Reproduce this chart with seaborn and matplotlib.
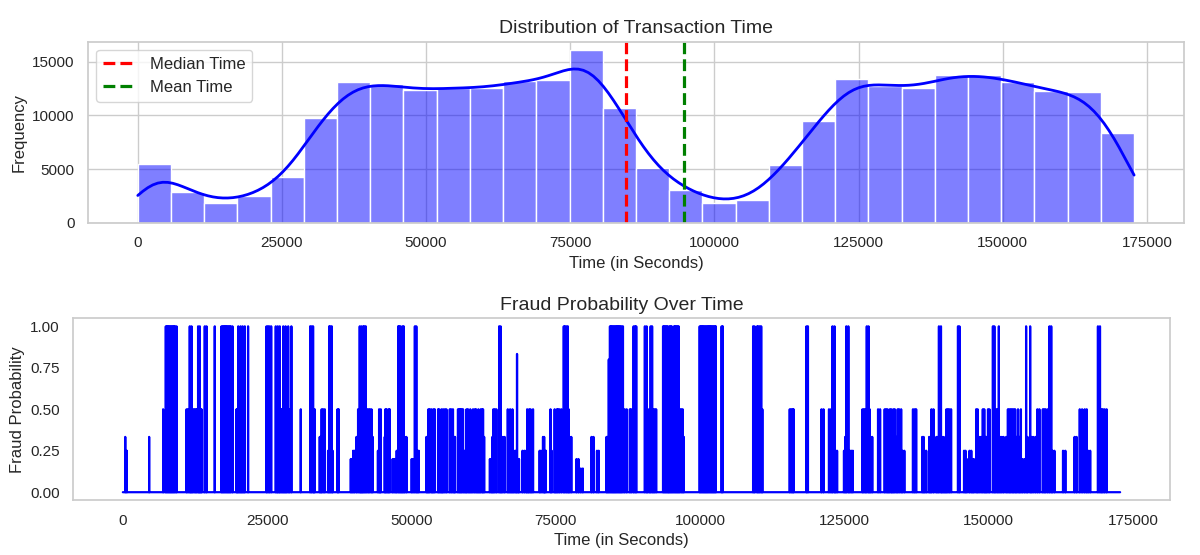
import numpy as np
import pandas as pd
import matplotlib
matplotlib.use("Agg")
import matplotlib.pyplot as plt
import seaborn as sns

# ---------------- data ----------------
# Histogram of transaction time (30 equal bins from min to max time)
bin_counts = [5500, 2900, 1900, 2500, 4300, 9800, 13100, 12900, 12330, 12580,
              12550, 13170, 13330, 16060, 10690, 5100, 3075, 1835, 2140, 5400,
              9500, 13420, 12770, 12550, 13790, 13740, 13110, 12240, 12140, 8360]
time_min, time_max = 0, 172792
time_median = 84692.0
time_mean = 94813.86

# Fraud probability spikes (time in seconds), grouped by probability level
times_p100 = [7450, 7650, 7850, 8050, 8250, 8450, 8650, 8850, 9050, 9300,
              11600, 11900, 13040, 13340, 14200, 14500, 15930,
              17100, 17300, 17500, 17700, 17900, 18100, 18300, 18500, 18700, 18990,
              20000, 20400, 20750, 21130, 21700,
              24900, 25150, 25400, 25700,
              26500, 26850, 27190, 27800, 28200, 28650, 29200,
              32450, 32700, 32960,
              35750, 35950, 36200,
              41050, 41340, 41650, 41850, 42090,
              47700, 47900, 48100, 48450, 48670,
              50600, 50850,
              65200, 65450,
              76400, 76600, 76850, 77100,
              84400, 84600, 84800, 85000, 85200, 85400, 85600, 85800, 86000, 86200, 86400, 86650,
              88500, 88750, 88950,
              90450, 90750, 91450, 91700,
              93600, 93800, 94000, 94200, 94400, 94700, 94900, 95100, 95500, 95700, 95900, 96100, 96300,
              99950, 100150, 100350, 100550, 100750, 100950, 101150, 101350, 101550, 101750,
              101950, 102150, 102350, 102550, 102750,
              103750, 103950,
              109200, 109450, 109900, 110100, 110350, 110600,
              118450, 118700,
              122950, 123300,
              125350, 125700,
              128900, 129200,
              141400, 141750,
              144700, 144950,
              150750, 151000, 151780,
              156500, 157200,
              160550, 160850,
              168950, 169300]
times_p83 = [68300]
times_p80 = [84200]
times_p50 = [6980,
             11050, 11300, 11750, 12100, 12350, 12600, 12800, 13200, 13500, 13630,
             19700, 19850, 20200, 20560, 20950,
             26700, 27050, 27400, 27600, 28000, 28400, 28900,
             30830, 33100, 33250, 34450, 34700, 34990, 37200, 37400,
             40760, 41200, 41500, 42300, 42550, 42800, 43080,
             44400, 44690, 45500, 45700, 46050, 46240,
             52950, 53170, 53460, 53800, 54040,
             54620, 54800, 55200, 55500, 55800, 56060,
             56650, 56900, 57200,
             58070, 58300, 58500, 58700, 58940,
             59550, 59800, 60200, 60670,
             60970, 61200, 61600, 62000, 62250, 62410,
             64200, 64450, 64720, 66700, 67100, 67500,
             70050, 70400, 70650, 71070, 74100,
             74820, 75200, 75400, 75650, 75980, 77250,
             86950, 87300, 87850, 88080,
             90950, 91250, 91900, 92150, 92400,
             95300, 96500, 96750, 97000,
             110800, 115550, 115800, 116050, 116220,
             121050, 121400, 122350, 122700,
             128150, 128400, 128650, 129400,
             130850, 131200,
             132000, 132250, 132500, 132900, 133150, 133500, 133750, 134250, 134500, 134850,
             136900, 137200, 137450, 140100, 140450,
             142700, 142950, 143200, 143500,
             147850, 148100, 149000, 149250, 149900, 150150,
             151250, 151500,
             153350, 153600, 153850, 154100, 154350, 154600, 155100, 155600,
             158450, 158800, 159400, 159650, 159900, 160250,
             165800, 166200, 166650, 167000,
             169550, 169800, 170100, 170450]
times_p33 = [420, 4560, 34120, 34300, 40480, 43300, 44550, 45380, 45900,
             48300, 48850, 49130, 52600, 52800, 53650, 55000, 55350, 57400, 57550,
             60000, 60450, 61400, 61800, 62600, 64030, 65600, 65850, 66150,
             70250, 70850, 72800, 73000, 75000, 77450, 77700, 81200, 81550,
             83800, 84000, 94550, 97200, 125150, 129600, 129840, 132700, 134000,
             138500, 138750, 139700, 139900, 140950, 141200, 142100, 142500,
             148350, 148700, 149450, 149650, 152000, 152300, 152600, 153050,
             154800, 155350, 156750, 157400, 157700, 158100, 164900, 165250]
times_p25 = [700, 35560, 36350, 39900, 40150, 44200, 47450, 51050, 51270,
             59150, 59400, 66900, 67950, 68150, 69250, 69600, 69900,
             72220, 72450, 73100, 73300, 74300, 82150, 82450,
             123500, 123750, 124950, 125950, 126200, 126480, 135050, 135400,
             138950, 139200, 142300, 145750, 146000, 146700, 147000,
             161050, 161400, 162900, 163300, 167250, 167600]
times_p20 = [39500, 39700, 46750, 47000, 47280, 50050, 50280, 63600, 63850,
             67300, 67720, 68500, 68640, 78600, 78950, 133300,
             146230, 147250, 147450, 155850, 156200]
times_p14 = [79350, 79700]
times_p10 = [141900]

# ---------------- style ----------------
sns.set_theme(style="whitegrid")
plt.rcParams["font.family"] = ["Liberation Sans", "DejaVu Sans"]

fig = plt.figure(figsize=(12, 5.55), dpi=100)
ax1 = fig.add_axes([0.0733, 0.5982, 0.9133, 0.3267])
ax2 = fig.add_axes([0.0608, 0.0982, 0.9142, 0.3288])

# ---------------- top: histogram + KDE ----------------
n_bins = len(bin_counts)
edges = np.linspace(time_min, time_max, n_bins + 1)
centers = (edges[:-1] + edges[1:]) / 2
hist_df = pd.DataFrame({"Time": centers, "Count": bin_counts})
w = np.asarray(bin_counts, float)
mu = np.average(centers, weights=w)
sd = np.sqrt(np.average((centers - mu) ** 2, weights=w))
neff = w.sum() ** 2 / (w ** 2).sum()
bw_adj = 4200.0 / (sd * neff ** -0.2)

sns.histplot(data=hist_df, x="Time", weights="Count", bins=n_bins,
             binrange=(time_min, time_max), kde=True,
             color="blue", alpha=0.5, ax=ax1,
             kde_kws={"bw_adjust": bw_adj, "cut": 1, "clip": (time_min, time_max)},
             line_kws={"linewidth": 2})
ax1.axvline(time_median, color="red", linestyle="--", linewidth=2.3, label="Median Time")
ax1.axvline(time_mean, color="green", linestyle="--", linewidth=2.3, label="Mean Time")
ax1.legend(loc="upper left", fontsize=12)
ax1.set_title("Distribution of Transaction Time", fontsize=14)
ax1.set_xlabel("Time (in Seconds)", fontsize=12)
ax1.set_ylabel("Frequency", fontsize=12)
ax1.tick_params(labelsize=11)

# ---------------- bottom: fraud probability ----------------
levels = [(times_p100, 1.0), (times_p83, 5 / 6), (times_p80, 0.8), (times_p50, 0.5),
          (times_p33, 1 / 3), (times_p25, 0.25), (times_p20, 0.2),
          (times_p14, 1 / 7), (times_p10, 0.1)]
ev = pd.concat([pd.DataFrame({"Time": t, "Prob": p}) for t, p in levels])
ev = ev.groupby("Time", as_index=False)["Prob"].max()
ft = ev["Time"].to_numpy(float)
fp = ev["Prob"].to_numpy(float)
zeros = np.zeros_like(fp)
series_t = np.concatenate([[time_min], np.column_stack([ft - 1, ft, ft + 1]).ravel(), [time_max]])
series_p = np.concatenate([[0.0], np.column_stack([zeros, fp, zeros]).ravel(), [0.0]])
line_df = pd.DataFrame({"Time": series_t, "Fraud Probability": series_p})

sns.lineplot(data=line_df, x="Time", y="Fraud Probability", color="blue",
             linewidth=1.6, estimator=None, ax=ax2)
ax2.grid(False)
ax2.set_yticks([0, 0.25, 0.5, 0.75, 1.0])
ax2.set_title("Fraud Probability Over Time", fontsize=14)
ax2.set_xlabel("Time (in Seconds)", fontsize=12)
ax2.set_ylabel("Fraud Probability", fontsize=12)
ax2.tick_params(labelsize=11)

fig.savefig("out.png", dpi=100)
